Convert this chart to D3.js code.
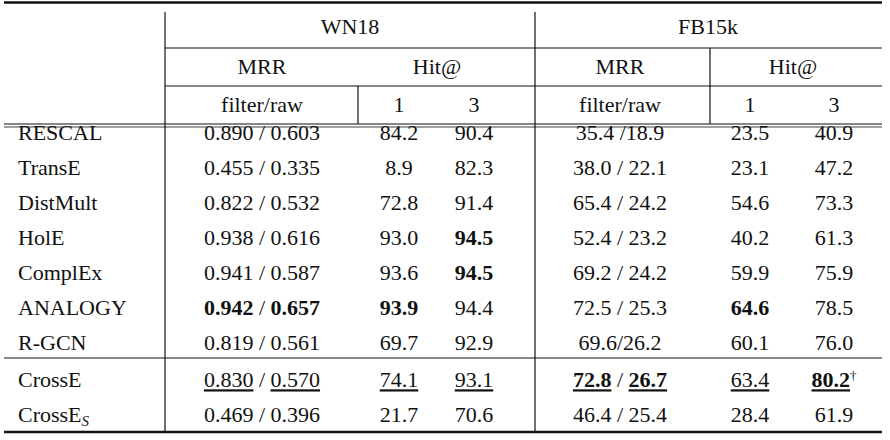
<!DOCTYPE html>
<html><head><meta charset="utf-8">
<script src="https://cdn.jsdelivr.net/npm/d3@7"></script>
<style>body{margin:0;background:#fff}</style>
</head><body><svg id="c" width="890" height="440" font-family="'Liberation Serif', 'DejaVu Serif', serif" fill="#111"></svg>
<script>
// ** = bold, __ = underline, ^ = superscript
const models = ["RESCAL","TransE","DistMult","HolE","ComplEx","ANALOGY","R-GCN","CrossE","CrossE_S"];
const wnMRR = ["0.890 / 0.603","0.455 / 0.335","0.822 / 0.532","0.938 / 0.616","0.941 / 0.587","**0.942** / **0.657**","0.819 / 0.561","__0.830__ / __0.570__","0.469 / 0.396"];
const wnH1 = ["84.2","8.9","72.8","93.0","93.6","**93.9**","69.7","__74.1__","21.7"];
const wnH3 = ["90.4","82.3","91.4","**94.5**","**94.5**","94.4","92.9","__93.1__","70.6"];
const fbMRR = ["35.4 /18.9","38.0 / 22.1","65.4 / 24.2","52.4 / 23.2","69.2 / 24.2","72.5 / 25.3","69.6/26.2","__**72.8**__ / __**26.7**__","46.4 / 25.4"];
const fbH1 = ["23.5","23.1","54.6","40.2","59.9","**64.6**","60.1","__63.4__","28.4"];
const fbH3 = ["40.9","47.2","73.3","61.3","75.9","78.5","76.0","__**80.2**__^†","61.9"];
const columns = [wnMRR, wnH1, wnH3, fbMRR, fbH1, fbH3];
const colX = [262, 399, 474, 620, 750, 834];

const svg = d3.select("#c");
const y = d3.scaleBand().domain(d3.range(models.length)).range([114, 430]);
const rowY = i => y(i) + y.bandwidth()/2 + 8 + (i >= 7 ? 2 : 0);

function line(x1,y1,x2,y2,w){svg.append("line").attr("x1",x1).attr("y1",y1).attr("x2",x2).attr("y2",y2).attr("stroke","#111").attr("stroke-width",w||1.2);}

function rich(s, x, yy){
  const text = svg.append("text").attr("x",x).attr("y",yy).attr("text-anchor","middle").attr("font-size",22);
  const parts = s.split(/(__\*\*.*?\*\*__|__.*?__|\*\*.*?\*\*|\^.)/).filter(p=>p);
  parts.forEach(p=>{
    let bold=false, und=false, sup=false, v=p;
    if (v.startsWith("__")) {und=true; v=v.slice(2,-2);}
    if (v.startsWith("**")) {bold=true; v=v.slice(2,-2);}
    if (v.startsWith("^")) {sup=true; v=v.slice(1);}
    const ts = text.append("tspan").text(v);
    if (bold) ts.attr("font-weight","bold");
    if (und) ts.attr("text-decoration","underline");
    if (sup) ts.attr("font-size",13).attr("baseline-shift","super");
  });
}

// header
const h = (s,x,yy)=>svg.append("text").attr("x",x).attr("y",yy).attr("text-anchor","middle").attr("font-size",22).text(s);
h("WN18",350,34); h("FB15k",708,34);
h("MRR",262,74); h("Hit@",437,74); h("MRR",620,74); h("Hit@",793,74);
h("filter/raw",262,112); h("1",399,112); h("3",474,112); h("filter/raw",620,112); h("1",750,112); h("3",834,112);

// rules
line(4,2.5,882,2.5,2.4);
line(165,48,882,48); line(165,86,882,86);
line(4,124,882,124); line(4,127,882,127,0.8);
line(4,358,882,358);
line(4,432,882,432,2.4);
line(165,12,165,432); line(535,12,535,432);
line(358,86,358,124); line(710,48,710,124);

// body
models.forEach((m,i)=>{
  const t = svg.append("text").attr("x",18).attr("y",rowY(i)).attr("font-size",22);
  if (m.endsWith("_S")) {
    t.append("tspan").text(m.slice(0,-2));
    t.append("tspan").text("S").attr("font-size",15).attr("font-style","italic").attr("dy",4);
  } else t.text(m);
  columns.forEach((col,j)=>rich(col[i], colX[j], rowY(i)));
});
</script></body></html>
